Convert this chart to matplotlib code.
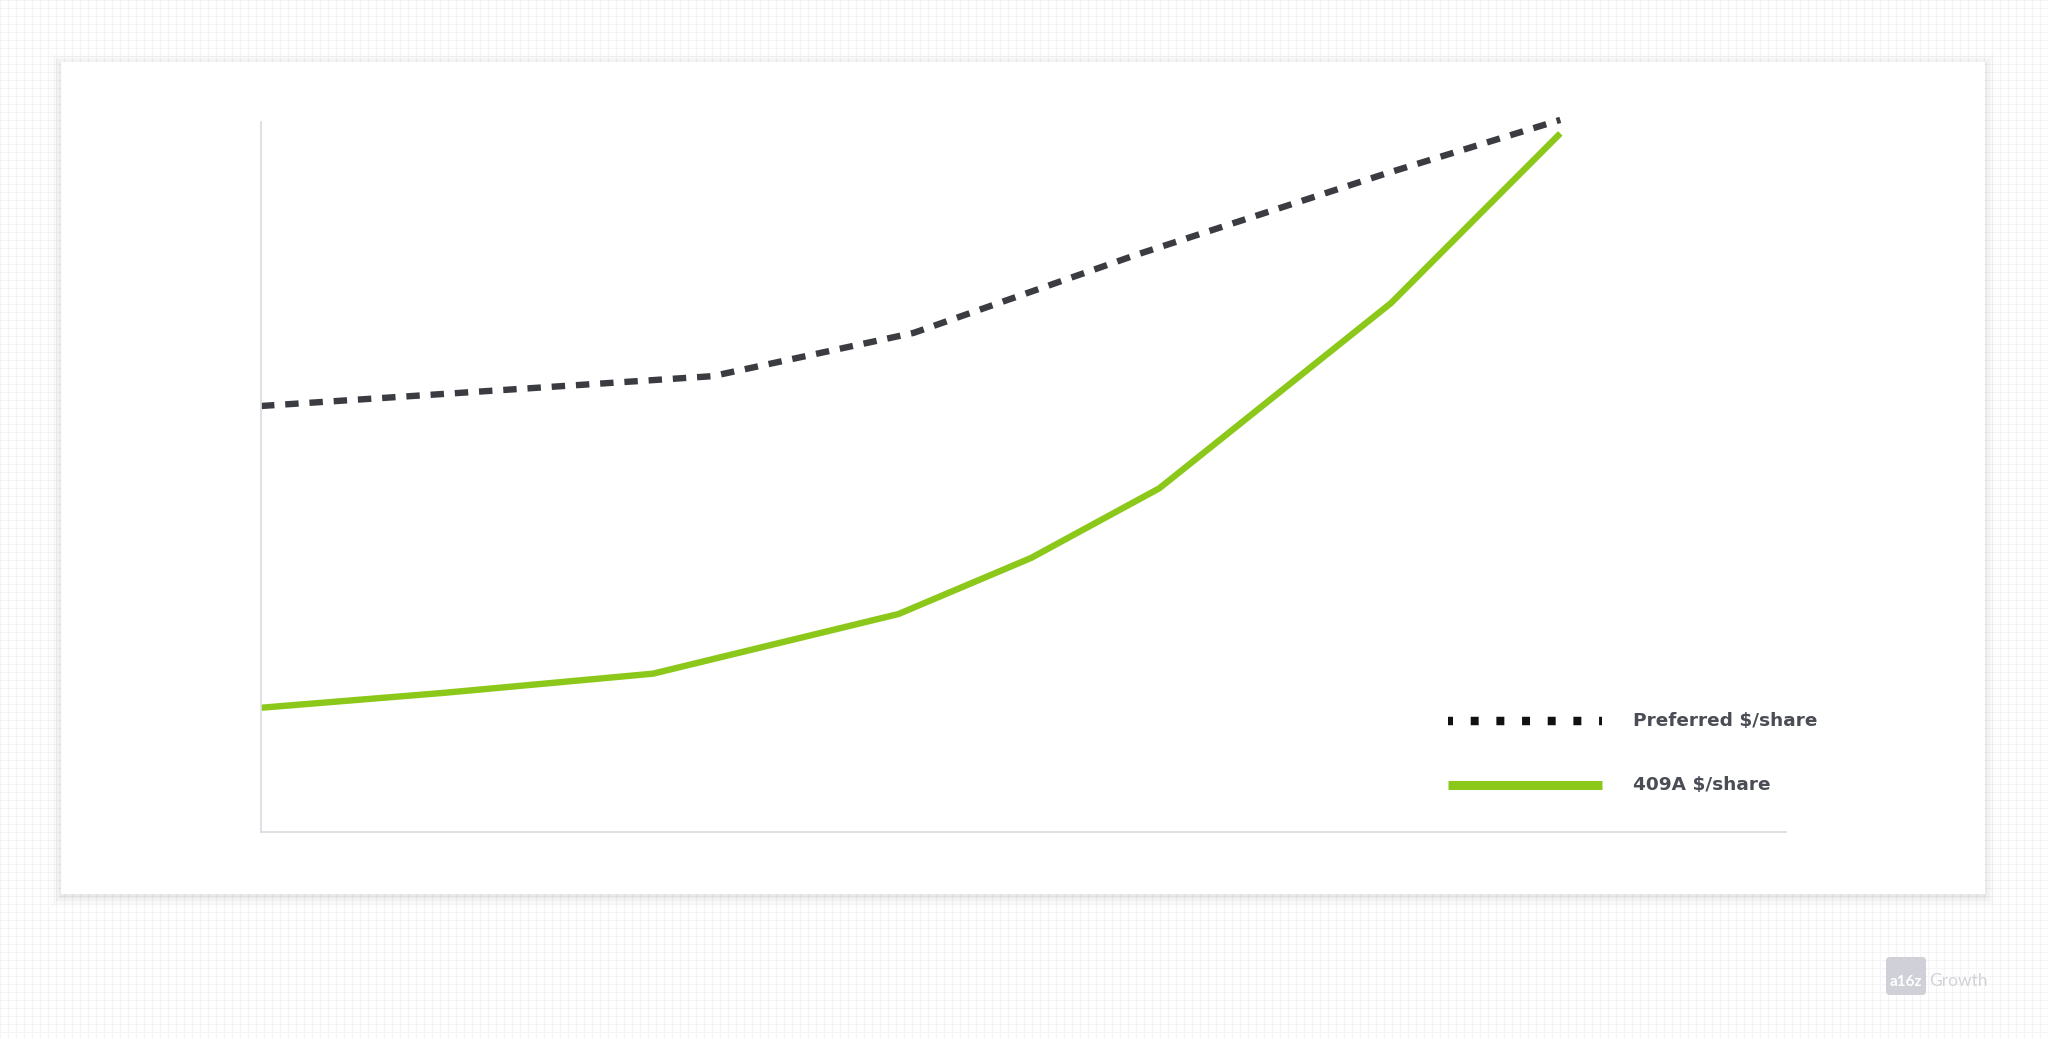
#!/usr/bin/env python3
"""Preferred price vs 409A price per share, a16z Growth style card."""

import numpy as np
import matplotlib
matplotlib.use('Agg')
import matplotlib.pyplot as plt
from matplotlib.patches import FancyBboxPatch, Rectangle

# Data (x as share of the time axis, y as share of the value axis)
preferred_x = [0, 29.6, 42.8, 57.4, 73.7, 85.2]
preferred_y = [60.0, 64.2, 70.3, 81.3, 92.7, 100.3]

fmv_x = [0, 12.0, 25.7, 41.8, 50.5, 58.9, 74.1, 85.2]
fmv_y = [17.5, 19.6, 22.3, 30.7, 38.6, 48.4, 74.5, 98.4]

series_labels = ['Preferred $/share', '409A $/share']

GREEN = '#8cc81a'
DARK = '#3b3c42'
TEXT = '#4b4d55'

W, H = 2048, 1038
fig = plt.figure(figsize=(W / 100, H / 100), dpi=100)
fig.patch.set_facecolor('white')

# Background layer in pixel coordinates
bg = fig.add_axes([0, 0, 1, 1], zorder=0)
bg.set_xlim(0, W)
bg.set_ylim(H, 0)
bg.axis('off')

# graph-paper grid
for x in np.arange(0, W, 8):
    bg.plot([x, x], [0, H], color='#f4f4f4', lw=0.7, zorder=0)
for y in np.arange(0, H, 8):
    bg.plot([0, W], [y, y], color='#f4f4f4', lw=0.7, zorder=0)

# card with soft shadow
card_x, card_y, card_w, card_h = 61, 62, 1924, 832
for i, a in enumerate([0.035, 0.025, 0.015, 0.008]):
    pad = 2 + i * 3
    bg.add_patch(Rectangle((card_x - pad, card_y - pad + 2), card_w + 2 * pad, card_h + 2 * pad,
                           facecolor='#000000', edgecolor='none', alpha=a, zorder=1))
bg.add_patch(Rectangle((card_x, card_y), card_w, card_h, facecolor='white',
                       edgecolor='none', zorder=2))

# legend drawn by hand
bg.plot([1448, 1602], [721, 721], color='#111111', lw=6.1, solid_capstyle='butt',
        dash_capstyle='butt', linestyle=(0.35, (0.94, 2.09)), zorder=3)
bg.plot([1448, 1602], [784.5, 784.5], color=GREEN, lw=6.5, solid_capstyle='butt', zorder=3)
bg.text(1633, 721, series_labels[0], fontsize=13.3, family='DejaVu Sans', fontweight='bold',
        color=TEXT, ha='left', va='center', zorder=3)
bg.text(1633, 785, series_labels[1], fontsize=13.3, family='DejaVu Sans', fontweight='bold',
        color=TEXT, ha='left', va='center', zorder=3)

# a16z Growth logo
bg.add_patch(FancyBboxPatch((1886, 957), 40, 38, boxstyle="round,pad=0,rounding_size=4",
                            facecolor='#cfd0d8', edgecolor='none', zorder=3))
bg.text(1906, 986, 'a16z', fontsize=11, family='Lato', fontweight='bold',
        color='white', ha='center', va='baseline', zorder=4)
bg.text(1929, 986, 'Growth', fontsize=12.5, family='Lato', color='#d2d3da',
        ha='left', va='baseline', zorder=4)

# Chart axes
ax = fig.add_axes([261 / W, 1 - 832 / H, 1525 / W, 710 / H], zorder=5)
ax.set_facecolor('none')
ax.set_xlim(0, 100)
ax.set_ylim(0, 100)
for side in ['top', 'right']:
    ax.spines[side].set_visible(False)
for side in ['left', 'bottom']:
    ax.spines[side].set_color('#dcdde3')
    ax.spines[side].set_linewidth(1.3)
ax.set_xticks([])
ax.set_yticks([])

ax.plot(preferred_x, preferred_y, color=DARK, lw=4.6, dashes=(2.1, 1.7),
        dash_capstyle='butt', clip_on=False, label=series_labels[0])
ax.plot(fmv_x, fmv_y, color=GREEN, lw=4.6, solid_capstyle='butt',
        clip_on=False, label=series_labels[1])

plt.savefig('out.png', dpi=100, facecolor='white')
plt.close()
